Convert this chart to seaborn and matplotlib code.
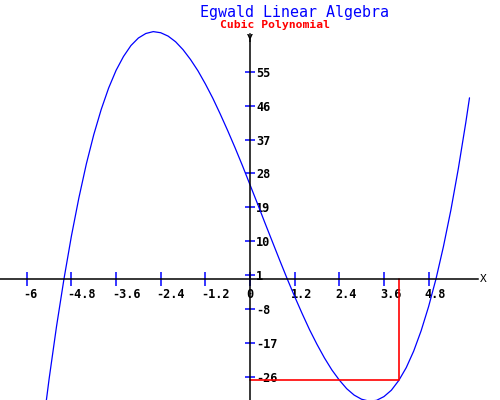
import matplotlib
matplotlib.use("Agg")
import matplotlib.pyplot as plt
import matplotlib.transforms as mtransforms
import seaborn as sns
import pandas as pd

# ---- data ----
curve_x = [-5.6, -5.4, -5.2, -5.0, -4.8, -4.6, -4.4, -4.2, -4.0, -3.8, -3.6, -3.4,
           -3.2, -3.0, -2.8, -2.6, -2.4, -2.2, -2.0, -1.8, -1.6, -1.4, -1.2, -1.0,
           -0.8, -0.6, -0.4, -0.2, 0.0, 0.2, 0.4, 0.6, 0.8, 1.0, 1.2, 1.4, 1.6, 1.8,
           2.0, 2.2, 2.4, 2.6, 2.8, 3.0, 3.2, 3.4, 3.6, 3.8, 4.0, 4.2, 4.4, 4.6, 4.8,
           5.0, 5.2, 5.4, 5.6, 5.8, 5.9]
curve_y = [-42.0, -26.6, -12.6, 0.0, 11.4, 21.5, 30.5, 38.3, 45.0, 50.7, 55.4, 59.1,
           62.0, 64.0, 65.2, 65.7, 65.4, 64.5, 63.0, 60.9, 58.3, 55.3, 51.8, 48.0,
           43.8, 39.4, 34.8, 30.0, 25.0, 20.0, 14.9, 9.9, 4.9, 0.0, -4.7, -9.2, -13.5,
           -17.4, -21.0, -24.2, -26.9, -29.2, -30.9, -32.0, -32.5, -32.3, -31.3, -29.6,
           -27.0, -23.6, -19.2, -13.8, -7.4, 0.0, 8.6, 18.3, 29.3, 41.5, 48.1]
point_x = 4.0
point_y = -27.0
x_ticks = [-6, -4.8, -3.6, -2.4, -1.2, 0, 1.2, 2.4, 3.6, 4.8]
x_tick_labels = ["-6", "-4.8", "-3.6", "-2.4", "-1.2", "0", "1.2", "2.4", "3.6", "4.8"]
y_ticks = [-26, -17, -8, 1, 10, 19, 28, 37, 46, 55]
y_tick_labels = ["-26", "-17", "-8", "1", "10", "19", "28", "37", "46", "55"]
title = "Egwald Linear Algebra"
subtitle = "Cubic Polynomial"

sns.set_style("white")
plt.rcParams["font.family"] = ["DejaVu Sans Mono", "DejaVu Sans"]

fig = plt.figure(figsize=(5, 4), dpi=100)
ax = fig.add_axes([0, 0, 1, 1])
ax.set_facecolor("white")

df = pd.DataFrame({"x": curve_x, "y": curve_y})
sns.lineplot(data=df, x="x", y="y", sort=False, color="#0000ff", linewidth=0.9, ax=ax)

# red guide lines to the highlighted point
ax.plot([0, point_x, point_x], [point_y, point_y, 0], color="#ff0000", linewidth=1.2)

ax.set_xlim(-6.72, 6.72)
ax.set_ylim(-32.2, 74.1)
ax.set_xlabel("")
ax.set_ylabel("")

for s in ["top", "left"]:
    ax.spines[s].set_visible(False)
ax.spines["bottom"].set_position(("data", 0))
ax.spines["right"].set_position(("data", 0))
for s in ["bottom", "right"]:
    ax.spines[s].set_color("black")
    ax.spines[s].set_linewidth(1.1)
ax.spines["bottom"].set_bounds(-6.72, 6.13)
ax.spines["right"].set_bounds(-32.2, 65.0)

ax.yaxis.tick_right()
ax.xaxis.tick_bottom()
ax.set_xticks(x_ticks)
ax.set_xticklabels(x_tick_labels)
ax.set_yticks(y_ticks)
ax.set_yticklabels(y_tick_labels)
ax.tick_params(axis="x", direction="inout", length=10, width=1.1, color="#0000ff",
               pad=1.3, labelsize=8.6, labelcolor="black")
ax.tick_params(axis="y", direction="inout", length=7.5, width=1.1, color="#0000ff",
               pad=0.6, labelsize=8.6, labelcolor="black")
offset = mtransforms.ScaledTranslation(-4 / 100, 0, fig.dpi_scale_trans)
for lab in ax.get_xticklabels():
    lab.set_fontweight("bold")
    lab.set_horizontalalignment("left")
    lab.set_transform(lab.get_transform() + offset)
for lab in ax.get_yticklabels():
    lab.set_fontweight("bold")
ax.grid(False)

# axis names
ax.text(6.26, 0, "X", ha="center", va="center", fontsize=8, color="black")
ax.text(0, 65.1, "Y", ha="center", va="top", fontsize=7, fontweight="bold", color="black")

fig.text(294 / 500, 1 - 13 / 400, title, ha="center", va="center",
         fontsize=10.8, color="#0000ff")
fig.text(275 / 500, 1 - 25 / 400, subtitle, ha="center", va="center",
         fontsize=8.2, fontweight="bold", color="#ff0000")

fig.savefig("out.png", dpi=100, facecolor="white")
